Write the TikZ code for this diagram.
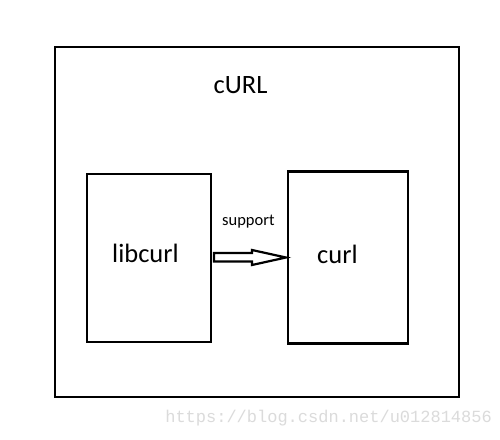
\documentclass[tikz,border=0pt]{standalone}
\usepackage{fontspec}
\setmainfont{Carlito}
\newfontfamily\wmfont{Liberation Mono}
\begin{document}
\begin{tikzpicture}[x=1pt,y=-1pt,
  box/.style={draw=black,line width=2.6pt,inner sep=0pt},
  lbl/.style={font=\fontsize{26.5}{30}\selectfont,inner sep=0pt,anchor=base west}]
\useasboundingbox (0,0) rectangle (500,439);
\fill[white] (0,0) rectangle (500,439);
\node[box,minimum width=404pt,minimum height=350pt] (outer) at (257,222) {};
\node[box,minimum width=124pt,minimum height=168pt] (lib) at (149,258) {};
\node[box,minimum width=120pt,minimum height=172pt] (cur) at (348,257.5) {};
\node[lbl] (title) at (213.5,93.3) {cURL};
\node[lbl] (libt) at (112,262.7) {libcurl};
\node[lbl] (curt) at (317,263.3) {curl};
\node[font=\fontsize{16.5}{19}\selectfont,inner sep=0pt,anchor=base west] (sup) at (222,225.7) {support};
\draw[line width=2.2pt,line join=miter]
  (214,253) -- (252,253) -- (252,250) -- (286,257.5) -- (252,265) -- (252,261.5) -- (214,261.5) -- cycle;
\node[font=\wmfont\fontsize{17}{20}\selectfont,text=black!14,inner sep=0pt,anchor=east] (wm) at (492,418) {https://blog.csdn.net/u012814856};
\end{tikzpicture}
\end{document}
